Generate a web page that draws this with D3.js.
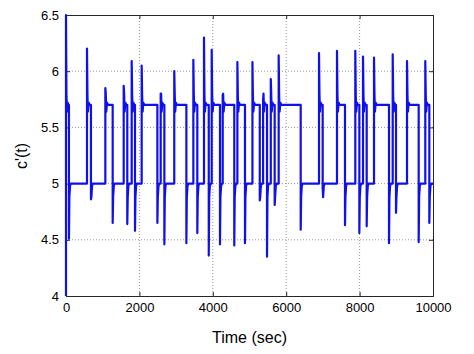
<!DOCTYPE html>
<html>
<head>
<meta charset="utf-8">
<script src="https://cdn.jsdelivr.net/npm/d3@7"></script>
<style>
  html, body { margin: 0; padding: 0; background: #fff; }
  svg { display: block; font-family: "Liberation Sans", Arial, sans-serif; }
</style>
</head>
<body>
<div id="chart"></div>
<script>
// switching events: time (sec), spike value, level it settles to
const startValue = 4.0;
const eventTime = [0, 80, 572, 680, 1072, 1272, 1572, 1670, 1790, 1880,
    2062, 2490, 2580, 2680, 2950, 3280, 3470, 3578, 3760, 3890,
    3970, 4196, 4270, 4585, 4670, 4877, 5080, 5280, 5370, 5477,
    5580, 5686, 5795, 6395, 6894, 6994, 7384, 7602, 7883, 7993,
    8093, 8193, 8393, 8801, 8902, 8992, 9292, 9610, 9790, 9900];
const eventExtreme = [6.5, 4.51, 6.2, 4.86, 5.85, 4.65, 5.87, 4.64, 6.09, 4.58,
    6.05, 4.65, 5.80, 4.46, 6.0, 4.47, 6.1, 4.56, 6.3, 4.36,
    6.19, 4.46, 5.79, 4.45, 6.08, 4.47, 6.08, 4.85, 5.74, 4.35,
    5.93, 4.81, 6.14, 4.59, 6.16, 4.96, 6.18, 4.63, 6.18, 4.56,
    6.13, 4.62, 6.12, 4.47, 6.15, 4.74, 6.09, 4.48, 6.09, 4.65];
const levelHigh = 5.7;
const levelLow = 5.0;
const endTime = 10000;

const xTicks = [0, 2000, 4000, 6000, 8000, 10000];
const yTicks = [4, 4.5, 5, 5.5, 6, 6.5];

const width = 474, height = 354;
const margin = { top: 15, right: 41, bottom: 58, left: 66 };
const innerW = width - margin.left - margin.right;
const innerH = height - margin.top - margin.bottom;

const svg = d3.select("#chart").append("svg")
    .attr("width", width)
    .attr("height", height);

const x = d3.scaleLinear().domain([0, 10000]).range([0, innerW]);
const y = d3.scaleLinear().domain([4, 6.5]).range([innerH, 0]);

const g = svg.append("g").attr("transform", `translate(${margin.left},${margin.top})`);

// grid (dotted, like matlab)
g.append("g").selectAll("line").data(xTicks.slice(1, -1)).join("line")
    .attr("x1", d => x(d)).attr("x2", d => x(d))
    .attr("y1", 0).attr("y2", innerH)
    .attr("stroke", "#999").attr("stroke-width", 1).attr("stroke-dasharray", "1,2");
g.append("g").selectAll("line").data(yTicks.slice(1, -1)).join("line")
    .attr("x1", 0).attr("x2", innerW)
    .attr("y1", d => y(d)).attr("y2", d => y(d))
    .attr("stroke", "#999").attr("stroke-width", 1).attr("stroke-dasharray", "1,2");

// axes with inward ticks on all four sides
const tickLen = 4;
const axisColor = "#262626";

const xb = g.append("g").attr("transform", `translate(0,${innerH})`)
    .call(d3.axisBottom(x).tickValues(xTicks).tickSize(-tickLen).tickPadding(7).tickFormat(d3.format("d")));
const xt = g.append("g")
    .call(d3.axisTop(x).tickValues(xTicks).tickSize(-tickLen).tickFormat(""));
const yl = g.append("g")
    .call(d3.axisLeft(y).tickValues(yTicks).tickSize(-tickLen).tickPadding(7).tickFormat(d => d));
const yr = g.append("g").attr("transform", `translate(${innerW},0)`)
    .call(d3.axisRight(y).tickValues(yTicks).tickSize(-tickLen).tickFormat(""));

[xb, xt, yl, yr].forEach(a => {
    a.select(".domain").attr("stroke", axisColor).attr("stroke-width", 1);
    a.selectAll(".tick line").attr("stroke", axisColor);
    a.selectAll(".tick text")
        .attr("fill", "#000")
        .attr("font-size", "13px")
        .attr("font-family", "'Liberation Sans', Arial, sans-serif");
});

// build the trace from the events
const pts = [[0, startValue]];
let prev = startValue;
eventTime.forEach((t, i) => {
    const ext = eventExtreme[i];
    const rising = ext > prev;
    const lvl = rising ? levelHigh : levelLow;
    pts.push([t, prev], [t, ext]);
    if (rising) {
        pts.push([t + 12, lvl + 0.1], [t + 25, lvl - 0.06], [t + 45, lvl + 0.02], [t + 70, lvl]);
    } else {
        pts.push([t + 12, lvl - 0.12], [t + 30, lvl - 0.02], [t + 50, lvl]);
    }
    prev = lvl;
});
pts.push([endTime, prev]);

const line = d3.line().x(d => x(d[0])).y(d => y(d[1]));

// drawn on top of the frame, the first jump sits on the left axis
g.append("path")
    .datum(pts)
    .attr("d", line)
    .attr("fill", "none")
    .attr("stroke", "#1010ea")
    .attr("stroke-width", 2.2)
    .attr("stroke-linejoin", "round");

// labels
svg.append("text")
    .attr("x", margin.left + innerW / 2)
    .attr("y", 343)
    .attr("text-anchor", "middle")
    .attr("font-size", "16px")
    .text("Time (sec)");

svg.append("text")
    .attr("transform", `translate(27,156) rotate(-90)`)
    .attr("text-anchor", "middle")
    .attr("font-size", "16px")
    .text("c'(t)");
</script>
</body>
</html>
